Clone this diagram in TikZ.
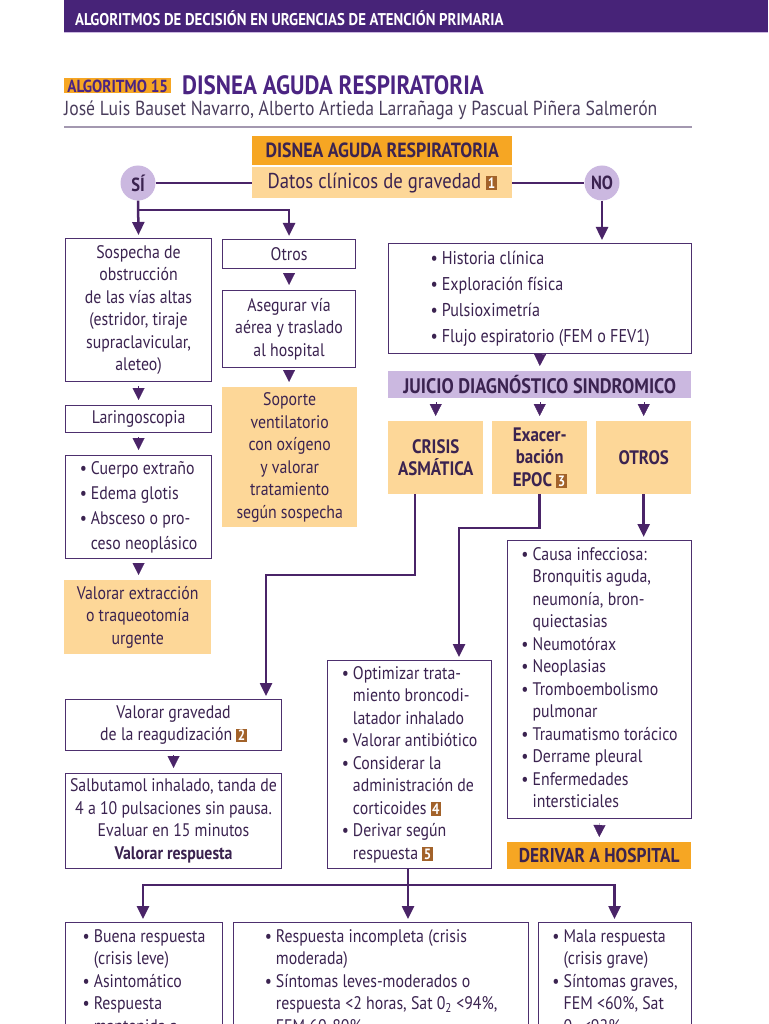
\documentclass[tikz,border=0pt]{standalone}
\usepackage{fontspec}
\setmainfont[FakeStretch=0.87]{PT Sans}
\usetikzlibrary{arrows.meta,calc}
\definecolor{hdrc}{HTML}{472378}
\definecolor{titlec}{HTML}{4B2482}
\definecolor{txt}{HTML}{3B2350}
\definecolor{authc}{HTML}{4A3D5C}
\definecolor{boxc}{HTML}{4D2F6E}
\definecolor{connc}{HTML}{4A2468}
\definecolor{orangec}{HTML}{F6A623}
\definecolor{lorangec}{HTML}{FDD798}
\definecolor{lpurplec}{HTML}{CBB8E0}
\definecolor{badgec}{HTML}{A2622A}
\definecolor{rulec}{HTML}{A398B0}
\newcommand\bdg[1]{{\setlength\fboxsep{1.5pt}\colorbox{badgec}{\textcolor{white}{\bfseries\fontsize{15}{15}\selectfont #1}}}}
\newcommand\bodyf{\fontsize{18.2}{22.5}\selectfont}
\newcommand\bodyfb{\bfseries\fontsize{19.5}{22.5}\selectfont}
\begin{document}
\begin{tikzpicture}[x=1pt,y=-1pt,
  box/.style={draw=boxc, line width=1.1pt, fill=white, text=txt, font=\bodyf, inner sep=0pt, align=center, anchor=north west},
  obox/.style={fill=orangec, text=txt, inner sep=0pt, align=center, anchor=north west},
  lobox/.style={fill=lorangec, text=txt, font=\bodyf, inner sep=0pt, align=center, anchor=north west},
  lpbox/.style={fill=lpurplec, text=txt, inner sep=0pt, align=center, anchor=north west},
  circ/.style={circle, fill=lpurplec, text=txt, minimum size=35pt, inner sep=0pt, font=\bfseries\fontsize{19}{19}\selectfont},
  conn/.style={draw=connc, line width=2.5pt, line join=miter},
  connA/.style={conn, -{Triangle[width=12pt,length=13pt]}, shorten >=3pt},
  tri/.style={draw=connc, line width=0.4pt, -{Triangle[width=12pt,length=12pt]}, shorten <=4pt, shorten >=5pt}
]
\useasboundingbox (0,0) rectangle (768,1024);
\clip (0,0) rectangle (768,1024);

% header
\fill[hdrc] (64,0) rectangle (768,32);
\draw[lpurplec, line width=1pt] (64,33) -- (768,33);
\node[font=\bfseries\fontsize{17}{18}\selectfont, text=white, anchor=west, inner sep=0pt] (hdr) at (75,18) {ALGORITMOS DE DECISIÓN EN URGENCIAS DE ATENCIÓN PRIMARIA};

\node[fill=orangec, text=titlec, font=\bfseries\fontsize{17.5}{17.5}\selectfont, anchor=west, inner sep=0pt, minimum width=107pt, minimum height=15pt] (alg) at (64,86) {ALGORITMO 15};
\node[text=titlec, font=\bfseries\fontsize{26.5}{28}\selectfont, anchor=west, inner sep=0pt] (title) at (182,85) {DISNEA AGUDA RESPIRATORIA};
\node[text=authc, font=\fontsize{20.3}{22}\selectfont, anchor=west, inner sep=0pt] (auth) at (64,110) {José Luis Bauset Navarro, Alberto Artieda Larrañaga y Pascual Piñera Salmerón};
\draw[rulec, line width=2pt] (64,127) -- (692,127);

% top
\node[obox, minimum width=260pt, minimum height=29pt, font=\bfseries\fontsize{20.5}{21}\selectfont] (t1) at (252,136) {DISNEA AGUDA RESPIRATORIA};
\node[lobox, minimum width=260pt, minimum height=31pt, font=\fontsize{21.5}{22}\selectfont] (datos) at (252,167) {Datos clínicos de gravedad \bdg{1}};
\node[circ] (si) at (138,183) {SÍ};
\node[circ] (no) at (602,183) {NO};

% left column
\node[box, minimum width=146pt, minimum height=143pt] (sosp) at (65,238) {Sospecha de\\obstrucción\\de las vías altas\\(estridor, tiraje\\supraclavicular,\\aleteo)};
\node[box, minimum width=146pt, minimum height=27pt] (lar) at (65,405) {Laringoscopia};
\node[box, minimum width=146pt, minimum height=103pt] (cuerpo) at (65,455) {\fontsize{18.2}{25}\selectfont\begin{tabular}{@{}l@{\hspace{4pt}}l@{}}
• & Cuerpo extraño\\
• & Edema glotis\\
• & Absceso o pro-\\
  & ceso neoplásico
\end{tabular}};
\node[lobox, minimum width=147pt, minimum height=74pt] (valext) at (64,580) {Valorar extracción\\o traqueotomía\\urgente};

% middle column
\node[box, minimum width=133pt, minimum height=29pt] (otros) at (222,239) {Otros};
\node[box, minimum width=133pt, minimum height=77pt] (aseg) at (222,290) {Asegurar vía\\aérea y traslado\\al hospital};
\node[lobox, minimum width=135pt, minimum height=140pt] (sop) at (222,387) {Soporte\\ventilatorio\\con oxígeno\\y valorar\\tratamiento\\según sospecha};

% right column
\node[box, minimum width=303pt, minimum height=110pt] (hist) at (388,243) {\fontsize{18.5}{26}\selectfont\begin{tabular}{@{}l@{\hspace{4pt}}l@{}}
• & Historia clínica\\
• & Exploración física\\
• & Pulsioximetría\\
• & Flujo espiratorio (FEM o FEV1)
\end{tabular}};
\node[lpbox, minimum width=303pt, minimum height=27pt, font=\bfseries\fontsize{21}{21}\selectfont] (juicio) at (388,371) {JUICIO DIAGNÓSTICO SINDROMICO};
\node[lobox, minimum width=95pt, minimum height=73pt, font=\bodyfb] (crisis) at (388,421) {CRISIS\\ASMÁTICA};
\node[lobox, minimum width=95pt, minimum height=73pt, font=\bodyfb] (epoc) at (492,421) {Exacer-\\bación\\EPOC \bdg{3}};
\node[lobox, minimum width=95pt, minimum height=73pt, font=\bodyfb] (otros2) at (596,421) {OTROS};
\node[box, minimum width=184pt, minimum height=278pt] (causa) at (507,540) {\begin{tabular}{@{}l@{\hspace{4pt}}l@{}}
• & Causa infecciosa:\\
  & Bronquitis aguda,\\
  & neumonía, bron-\\
  & quiectasias\\
• & Neumotórax\\
• & Neoplasias\\
• & Tromboembolismo\\
  & pulmonar\\
• & Traumatismo torácico\\
• & Derrame pleural\\
• & Enfermedades\\
  & intersticiales
\end{tabular}};
\node[obox, minimum width=184pt, minimum height=27pt, font=\bfseries\fontsize{20}{20}\selectfont] (deriv) at (507,842) {DERIVAR A HOSPITAL};

% lower
\node[box, minimum width=216pt, minimum height=51pt] (valg) at (65,699) {Valorar gravedad\\de la reagudización \bdg{2}};
\node[box, minimum width=216pt, minimum height=95pt] (salb) at (65,773) {Salbutamol inhalado, tanda de\\4 a 10 pulsaciones sin pausa.\\Evaluar en 15 minutos\\\textbf{Valorar respuesta}};
\node[box, minimum width=164pt, minimum height=208pt] (opt) at (327,660) {\begin{tabular}{@{}l@{\hspace{4pt}}l@{}}
• & Optimizar trata-\\
  & miento broncodi-\\
  & latador inhalado\\
• & Valorar antibiótico\\
• & Considerar la\\
  & administración de\\
  & corticoides \bdg{4}\\
• & Derivar según\\
  & respuesta \bdg{5}
\end{tabular}};

% bottom
\node[box, minimum width=157pt, minimum height=120pt] (b1) at (65,922) {\begin{tabular}{@{}l@{\hspace{4pt}}l@{}}
• & Buena respuesta\\
  & (crisis leve)\\
• & Asintomático\\
• & Respuesta\\
  & mantenida a
\end{tabular}};
\node[box, minimum width=295pt, minimum height=120pt] (b2) at (233,922) {\begin{tabular}{@{}l@{\hspace{4pt}}l@{}}
• & Respuesta incompleta (crisis\\
  & moderada)\\
• & Síntomas leves-moderados o\\
  & respuesta <2 horas, Sat 0\textsubscript{2} <94\%,\\
  & FEM 60-80\%
\end{tabular}};
\node[box, minimum width=153pt, minimum height=120pt] (b3) at (538,922) {\begin{tabular}{@{}l@{\hspace{4pt}}l@{}}
• & Mala respuesta\\
  & (crisis grave)\\
• & Síntomas graves,\\
  & FEM <60\%, Sat\\
  & 0\textsubscript{2} <92\%
\end{tabular}};

% connectors top
\draw[conn] (si.east) -- (si.east -| datos.west);
\draw[conn] (no.west -| datos.east) -- (no.west);
\coordinate (sib) at (138,210);
\draw[connA] (si.south) -- (sosp.north);
\draw[connA] (sib) -| (otros.north);
\draw[connA] (no.south) -- (no.south |- hist.north);

% triangle arrows
\draw[tri] (sosp.south) -- (lar.north);
\draw[tri] (lar.south) -- (cuerpo.north);
\draw[tri] (cuerpo.south) -- (cuerpo.south |- valext.north);
\draw[tri] (otros.south) -- (aseg.north);
\draw[tri] (aseg.south) -- (aseg.south |- sop.north);
\draw[tri] (hist.south) -- (juicio.north);
\draw[tri] (juicio.south -| crisis.south) -- (crisis.north);
\draw[tri] (juicio.south -| epoc.south) -- (epoc.north);
\draw[tri] (juicio.south -| otros2.south) -- (otros2.north);
\draw[tri] (causa.south) -- (deriv.north);
\draw[tri] (valg.south) -- (salb.north);

% long connectors
\coordinate (cA) at (415,575);
\coordinate (cB) at (266,575);
\draw[connA] (crisis.south -| cA) -- (cA) -- (cB) -- (cB |- valg.north);
\coordinate (eB) at (459,528);
\draw[connA] (epoc.south) |- (eB) -- (eB |- opt.north);
\draw[connA] (otros2.south) -- (otros2.south |- causa.north);

% bottom branching
\coordinate (bj) at (408,885);
\coordinate (bl) at (143,885);
\coordinate (br) at (614.5,885);
\draw[connA] (opt.south -| bj) -- (bj |- b2.north);
\draw[connA] (bj) -| (bl |- b1.north);
\draw[connA] (bj) -| (br |- b3.north);
\end{tikzpicture}
\end{document}
